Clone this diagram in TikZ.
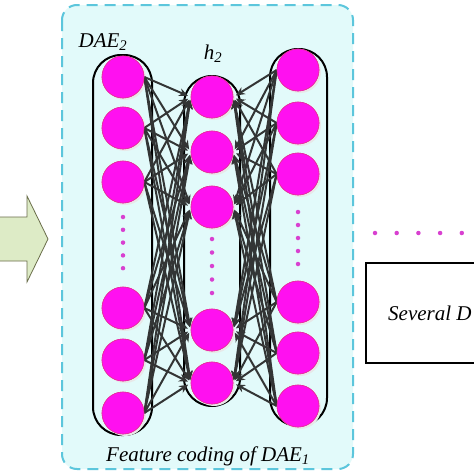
\documentclass[tikz,border=0pt]{standalone}
\usepackage{fontspec}
\setmainfont{Liberation Serif}
\usetikzlibrary{arrows.meta}
\definecolor{boxfill}{HTML}{E2FAFA}
\definecolor{boxdash}{HTML}{5CC6DC}
\definecolor{neuron}{HTML}{FF10F0}
\definecolor{neuronedge}{HTML}{E8309A}
\definecolor{dotpink}{HTML}{D840D0}
\definecolor{arrowfill}{HTML}{DDEBC6}
\definecolor{arrowedge}{HTML}{6A6E4A}
\definecolor{conncol}{HTML}{333535}
\tikzset{
  neu/.style={circle, minimum size=42pt, inner sep=0pt, fill=neuron, draw=neuronedge, line width=0.6pt},
  neushadow/.style={circle, minimum size=42pt, inner sep=0pt, fill=black!9},
  capsule/.style={draw=black, line width=2pt, rounded corners=28pt},
  conn/.style={draw=conncol, line width=2pt, -{Stealth[length=9pt,width=8pt]}},
  pdot/.style={circle, fill=dotpink, inner sep=0pt, minimum size=4.5pt},
  lbl/.style={font=\fontsize{21}{24}\selectfont\itshape, inner sep=0pt},
}
\begin{document}
\begin{tikzpicture}[x=1pt,y=-1pt]
\clip (0,0) rectangle (474,474);
\fill[white] (0,0) rectangle (474,474);
% left block arrow
\draw[fill=arrowfill, draw=arrowedge, line width=0.8pt]
  (-3,217) -- (27,217) -- (27,196) -- (48,239) -- (27,282) -- (27,261) -- (-3,261) -- cycle;
% dashed panel
\draw[fill=boxfill, draw=boxdash, line width=2pt, dash pattern=on 11pt off 7pt, rounded corners=15pt]
  (62,5) rectangle (353,469);
% capsules
\draw[capsule] (93,55) rectangle (152,435);
\draw[capsule] (184,76) rectangle (240,406);
\draw[capsule] (270,49) rectangle (327,426);
% neuron shadows
\foreach \y in {77,128,182,308,360,413} \node[neushadow] at (125,\y+2) {};
\foreach \y in {97,152,207,330,383} \node[neushadow] at (214,\y+2) {};
\foreach \y in {70,123,174,302,353,406} \node[neushadow] at (300,\y+2) {};
% neurons
\node[neu] (L1) at (123,77) {};
\node[neu] (L2) at (123,128) {};
\node[neu] (L3) at (123,182) {};
\node[neu] (L4) at (123,308) {};
\node[neu] (L5) at (123,360) {};
\node[neu] (L6) at (123,413) {};
\node[neu] (M1) at (212,97) {};
\node[neu] (M2) at (212,152) {};
\node[neu] (M3) at (212,207) {};
\node[neu] (M4) at (212,330) {};
\node[neu] (M5) at (212,383) {};
\node[neu] (R1) at (298,70) {};
\node[neu] (R2) at (298,123) {};
\node[neu] (R3) at (298,174) {};
\node[neu] (R4) at (298,302) {};
\node[neu] (R5) at (298,353) {};
\node[neu] (R6) at (298,406) {};
% connectors
\foreach \l in {1,...,6} \foreach \m in {1,...,5}
  \draw[conn, shorten >=3pt] (L\l.east) -- (M\m.west);
\foreach \r in {1,...,6} \foreach \m in {1,...,5}
  \draw[conn, shorten >=3pt] (R\r.west) -- (M\m.east);
% redraw neurons on top
\foreach \n/\x/\y in {L1/123/77,L2/123/128,L3/123/182,L4/123/308,L5/123/360,L6/123/413,
  M1/212/97,M2/212/152,M3/212/207,M4/212/330,M5/212/383,
  R1/298/70,R2/298/123,R3/298/174,R4/298/302,R5/298/353,R6/298/406}
  \node[neu] at (\x,\y) {};
% column dots
\foreach \i in {0,...,4} {
  \node[pdot] (dl\i) at (123,217+12.8*\i) {};
  \node[pdot] (dm\i) at (212,239+13.5*\i) {};
  \node[pdot] (dr\i) at (298,212+13*\i) {};
}
% labels
\node[lbl] (lblDAE) at (103,42) {DAE\textsubscript{2}};
\node[lbl] (lblh) at (213,54) {h\textsubscript{2}};
\node[lbl] (lblFeat) at (208,456) {Feature coding of DAE\textsubscript{1}};
% right dots
\foreach \i in {0,...,4} \node[pdot] (rd\i) at (375+21.7*\i,233) {};
% right box
\draw[line width=1.6pt] (366,263) rectangle (490,363);
\node[lbl, anchor=west] (several) at (388,313) {Several D};
\end{tikzpicture}
\end{document}
